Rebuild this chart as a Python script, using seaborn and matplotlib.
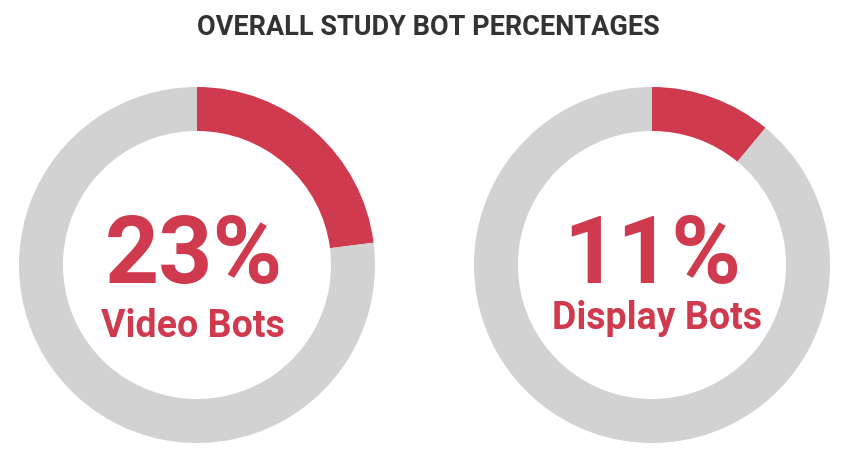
import matplotlib.pyplot as plt
import seaborn as sns

# Data
labels = ["Video Bots", "Display Bots"]
bot_pct = [23, 11]
title = "OVERALL STUDY BOT PERCENTAGES"

RED = "#CF3A4E"
GREY = "#D2D2D2"
DARK = "#333333"

sns.set_theme(style="white")
plt.rcParams["font.family"] = ["Roboto", "DejaVu Sans"]

W, H = 850, 457
fig = plt.figure(figsize=(W / 100, H / 100), dpi=100)
fig.patch.set_facecolor("white")

# donut centres / radius in pixels
centres = [(197, 265), (652, 265)]
radius = 178
# text centres (pct digits mid-y, label baseline)
pct_pos = [(194, 247), (652, 247)]
lab_pos = [(193, 337), (657, 329)]

for i, (label, pct) in enumerate(zip(labels, bot_pct)):
    cx, cy = centres[i]
    ax = fig.add_axes([
        (cx - radius) / W,
        (H - cy - radius) / H,
        2 * radius / W,
        2 * radius / H,
    ])
    ax.pie(
        [pct, 100 - pct],
        colors=[RED, GREY],
        startangle=90,
        counterclock=False,
        radius=1,
        wedgeprops=dict(width=0.247, edgecolor="none", linewidth=0),
    )
    ax.set_xlim(-1, 1)
    ax.set_ylim(-1, 1)
    ax.set_aspect("equal")
    ax.axis("off")

    px, py = pct_pos[i]
    fig.text(px / W, 1 - py / H, f"{pct}%", color=RED, fontsize=68,
             fontweight="bold", ha="center", va="center_baseline")
    lx, ly = lab_pos[i]
    fig.text(lx / W, 1 - ly / H, label, color=RED, fontsize=27,
             fontweight="bold", ha="center", va="baseline")

fig.text(428 / W, 1 - 35 / H, title, color=DARK, fontsize=19.5,
         fontweight="bold", ha="center", va="baseline")

fig.savefig("out.png", dpi=100, facecolor="white")
